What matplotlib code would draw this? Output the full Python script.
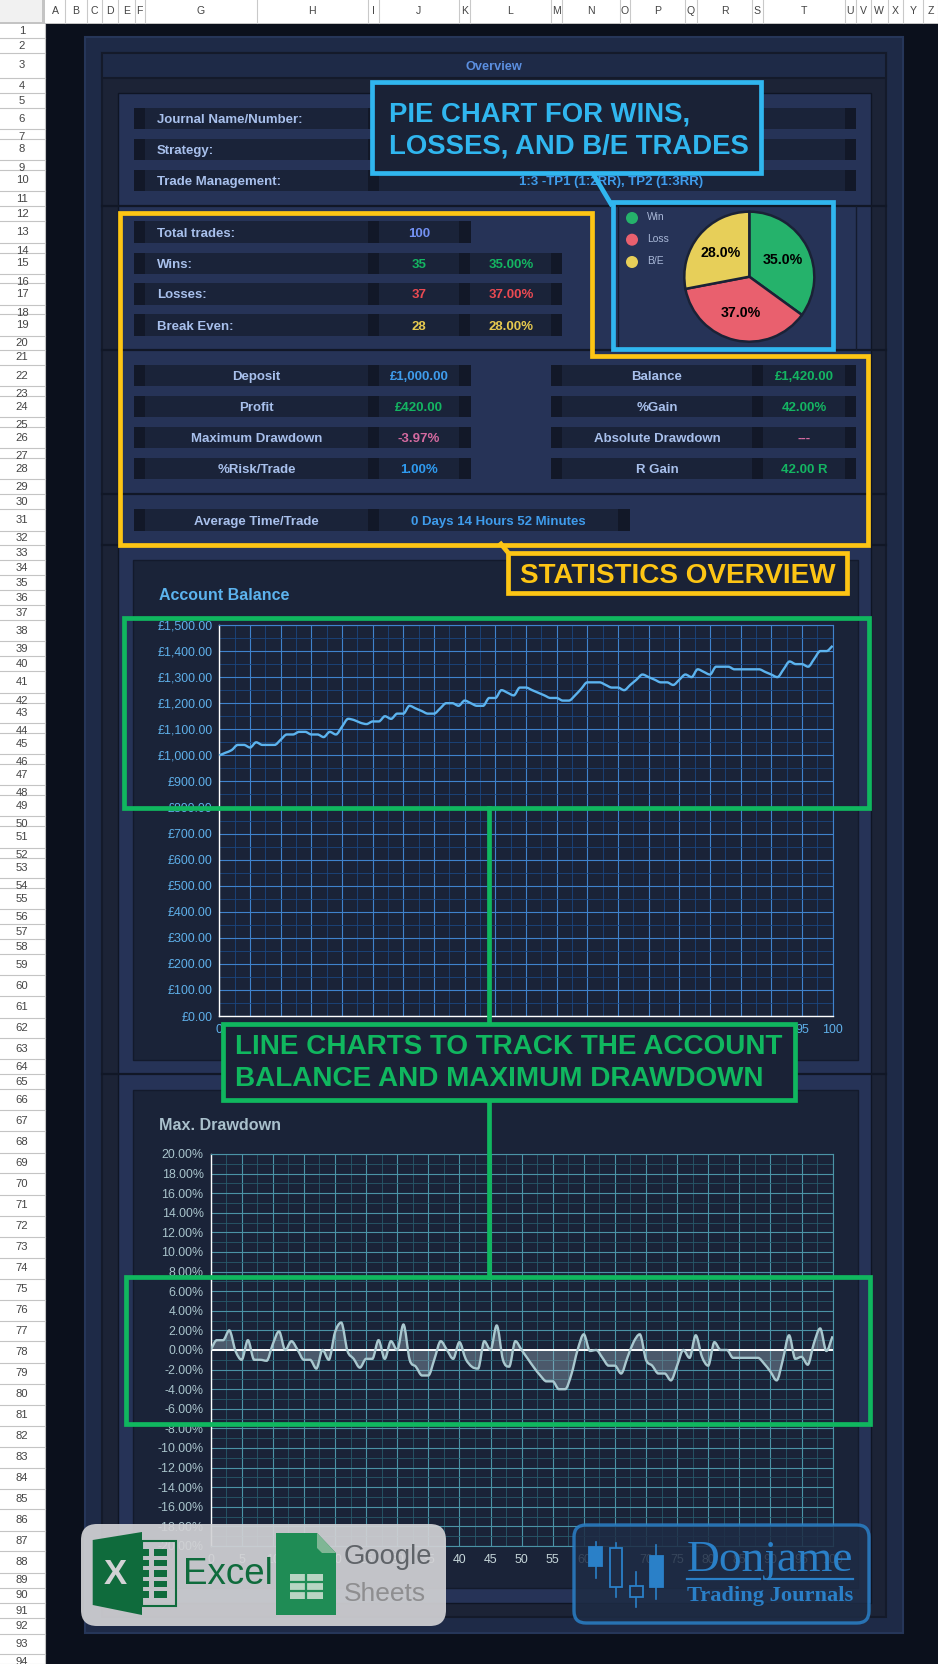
import numpy as np
import matplotlib
matplotlib.use("Agg")
import matplotlib.pyplot as plt
from matplotlib.patches import Rectangle, Polygon, Circle, FancyBboxPatch, PathPatch
from matplotlib.path import Path

W, H = 938, 1664
plt.rcParams['font.family'] = ['Liberation Sans', 'DejaVu Sans']

# chart data
pie_labels = ["Win", "Loss", "B/E"]
pie_values = [35, 37, 28]
pie_colors = ["#25b26b", "#e9606e", "#e7cf59"]

balance = [1000, 1010, 1020, 1040, 1040, 1030, 1050, 1040, 1040, 1040, 1060, 1080, 1080, 1090, 1090, 1080, 1080,
           1070, 1090, 1080, 1110, 1140, 1135, 1125, 1120, 1130, 1130, 1150, 1140, 1160, 1160, 1190, 1180, 1170,
           1160, 1160, 1180, 1200, 1200, 1190, 1210, 1200, 1190, 1190, 1220, 1220, 1250, 1240, 1230, 1260, 1260,
           1250, 1240, 1230, 1220, 1220, 1210, 1210, 1230, 1255, 1280, 1280, 1280, 1270, 1260, 1260, 1250, 1270,
           1290, 1310, 1300, 1290, 1280, 1280, 1270, 1290, 1310, 1300, 1330, 1320, 1310, 1340, 1340, 1340, 1330,
           1330, 1330, 1330, 1330, 1320, 1310, 1300, 1330, 1360, 1350, 1350, 1340, 1370, 1400, 1400, 1420]

drawdown = [0, 1.0, 1.0, 2.0, -0.1, -1.0, 1.0, -1.0, -1.0, -1.1, 0.6, 1.9, 0, 0.9, 0, -1.0, -1.0, -1.9, 0, -1.0,
            1.8, 2.8, -0.1, -0.9, -1.8, -0.9, -0.9, 1.0, -0.9, 0.9, 0, 2.6, -1.0, -1.7, -2.6, -2.6, -0.9, 0.9, 0,
            -0.9, 0.8, -0.9, -1.7, -1.9, 0.9, 0, 2.5, -1.0, -1.7, 0.9, 0, -0.9, -1.8, -2.6, -3.2, -3.2, -4.0, -4.0,
            -2.5, 0, 1.6, -0.1, 0, -0.8, -1.6, -1.6, -2.4, -0.8, 0.8, 1.6, -1.0, -1.6, -2.4, -2.4, -3.1, -1.6, 0,
            -0.8, 1.5, -0.7, -1.6, 0.8, 0, 0, -0.8, -0.8, -0.8, -0.8, -0.8, -1.4, -2.2, -3.1, -1.0, 1.5, -0.9, -0.7,
            -1.5, 0.7, 2.2, -0.1, 1.4]

x_ticks = list(range(0, 101, 5))
balance_ticks = list(range(0, 1501, 100))
drawdown_ticks = list(range(-20, 21, 2))

# stats rows: (row top, row bottom, label, value, colour, second value)
left_rows = [
    (221.4, 242.9, "Total trades:", "100", "#7391f2", None),
    (252.5, 273.9, "Wins:", "35", "#14b562", "35.00%"),
    (283.2, 304.6, "Losses:", "37", "#ea4a52", "37.00%"),
    (314.3, 335.7, "Break Even:", "28", "#e6c94f", "28.00%"),
]
center_rows = [
    (365.0, 386.4, "Deposit", "£1,000.00", "#3f9cec", "Balance", "£1,420.00", "#14b562"),
    (396.4, 417.1, "Profit", "£420.00", "#14b562", "%Gain", "42.00%", "#14b562"),
    (427.1, 448.2, "Maximum Drawdown", "-3.97%", "#d46aa0", "Absolute Drawdown", "---", "#d46aa0"),
    (458.2, 479.3, "%Risk/Trade", "1.00%", "#2f9bf0", "R Gain", "42.00 R", "#14b562"),
]

# sheet chrome
col_names = list("ABCDEFGHIJKLMNOPQRSTUVWXYZ")
col_edges = [45, 65, 87, 102, 118, 134.5, 145, 256.5, 368, 378.5, 459, 470, 551, 562, 619.6, 630, 685, 697, 752,
             763, 844.5, 856, 871, 887.5, 903, 923, 938]
row_edges = [23.6, 38.2, 52.9, 77.9, 93.2, 108.2, 128.9, 138.9, 160, 169.6, 191, 206.4, 221.4, 242.9, 252.5, 273.9,
             283.2, 304.6, 314.3, 335.7, 350, 365, 386.4, 396.4, 417.1, 427.1, 448.2, 458.2, 479.3, 494.3, 509.3,
             530.7, 545, 560.4, 575.4, 590.4, 605.4, 620.4, 641.4, 656.4, 671.4, 692.5, 702.5, 723.2, 733.2, 754.3,
             764.3, 785.4, 795.4, 816.4, 826.4, 847.5, 857.5, 878.2, 888.2, 909.3, 924.3, 939.3, 954.3, 975.4,
             996.4, 1017.5, 1038.2, 1059.3, 1074.3, 1089.3, 1110, 1131.3, 1152.5, 1173.4, 1194.6, 1215.5, 1236.7,
             1257.5, 1278.8, 1299.6, 1320.5, 1341.4, 1362.6, 1383.5, 1404.7, 1425.5, 1446.8, 1467.6, 1488.5, 1509.4,
             1530.6, 1551.4, 1572.7, 1587.8, 1602.9, 1618.3, 1633.5, 1654.3, 1664]

CAP = "#121828"
CELL = "#1a2339"
PANEL = "#263357"
LABEL = "#a8c0ec"
BLUE = "#30b6ef"
YELLOW = "#fdc514"
GREEN = "#10b75f"
DARKBOX = "#1a2236"


def rect(ax, x0, y0, x1, y1, fc, ec="none", lw=0, z=1, **kw):
    ax.add_patch(Rectangle((x0, y0), x1 - x0, y1 - y0, fc=fc, ec=ec, lw=lw, zorder=z, **kw))


def px_axes(x0, y0, x1, y1, z):
    return fig.add_axes([x0 / W, 1 - y1 / H, (x1 - x0) / W, (y1 - y0) / H], zorder=z)


def smooth_path(xs, ys):
    # bezier through the points, flat at local peaks like the sheet's smooth line
    xs, ys = np.array(xs, float), np.array(ys, float)
    d = np.diff(ys)
    t = np.zeros(len(ys))
    for i in range(1, len(ys) - 1):
        if d[i - 1] * d[i] > 0:
            t[i] = (d[i - 1] + d[i]) / 2
    t[0], t[-1] = d[0], d[-1]
    verts = [(xs[0], ys[0])]
    codes = [Path.MOVETO]
    for i in range(len(ys) - 1):
        verts += [(xs[i] + 1 / 3, ys[i] + t[i] / 3), (xs[i + 1] - 1 / 3, ys[i + 1] - t[i + 1] / 3), (xs[i + 1], ys[i + 1])]
        codes += [Path.CURVE4] * 3
    return verts, codes


def style_chart(ax, yt, ylabels, major, minor, labelc, xlabelc, ymin, ymax, ystep):
    ax.set_facecolor("none")
    ax.set_xlim(0, 100)
    ax.set_ylim(ymin, ymax)
    ax.set_xticks(x_ticks)
    ax.set_xticklabels([str(v) for v in x_ticks])
    ax.set_xticks(np.arange(2.5, 100, 5), minor=True)
    ax.set_yticks(yt)
    ax.set_yticklabels(ylabels)
    ax.set_yticks(np.arange(ymin + ystep / 2, ymax, ystep), minor=True)
    ax.grid(True, which="major", color=major, lw=0.8, zorder=1)
    ax.grid(True, which="minor", color=minor, lw=0.6, zorder=0)
    ax.set_axisbelow(True)
    ax.tick_params(which="both", length=0)
    ax.tick_params(axis="y", labelsize=8.9, labelcolor=labelc, pad=5)
    ax.tick_params(axis="x", labelsize=8.9, labelcolor=xlabelc, pad=6)
    for s in ("top", "right"):
        ax.spines[s].set_color(major)
        ax.spines[s].set_linewidth(0.8)
    ax.spines["left"].set_color("white")
    ax.spines["left"].set_linewidth(1.0)


fig = plt.figure(figsize=(W / 100, H / 100), dpi=100, facecolor="white")

bg = px_axes(0, 0, W, H, 0)
bg.set_xlim(0, W)
bg.set_ylim(H, 0)
bg.axis("off")

# sheet body and headers
rect(bg, 45, 23.6, W, H, "#0b101c")
rect(bg, 0, 0, 45, 23.6, "#f1f1f1")
rect(bg, 41.5, 0, 45, 23.6, "#c4c4c4")
rect(bg, 0, 22.3, 45, 23.6, "#c4c4c4")
rect(bg, 45, 22.5, W, 23.6, "#c4c4c4")
for i, name in enumerate(col_names):
    x0, x1 = col_edges[i], col_edges[i + 1]
    bg.plot([x1, x1], [0, 23], color="#c9c9c9", lw=0.8, zorder=2)
    bg.text((x0 + x1) / 2, 11.5, name, ha="center", va="center", fontsize=7.6, color="#444444", zorder=3)
bg.plot([44.5, 44.5], [23, H], color="#c4c4c4", lw=0.8, zorder=2)
for i in range(len(row_edges) - 1):
    y0, y1 = row_edges[i], row_edges[i + 1]
    bg.plot([0, 44.5], [y1, y1], color="#c4c4c4", lw=0.8, zorder=2)
    yc = (y0 + y1) / 2 if y1 - y0 > 12 else y0 + 8
    t = bg.text(22, yc, str(i + 1), ha="center", va="center", fontsize=8.1, color="#444444", zorder=3)
    t.set_clip_path(Rectangle((0, y0), 44, y1 - y0, transform=bg.transData))

# dashboard frames
rect(bg, 85, 37, 903, 1633, "#1e2a47", ec="#263659", lw=1.5)
rect(bg, 102, 52.9, 886, 1617, "#1c2336", ec="#141a2a", lw=1.5, z=2)
rect(bg, 102, 52.9, 886, 77.9, "#1e2a47", ec="#141a2a", lw=1.5, z=3)
bg.text(494, 66.5, "Overview", ha="center", va="center", fontsize=9.2, fontweight="bold", color="#5b8fe0", zorder=4)
rect(bg, 118, 93.2, 871, 1603, PANEL, ec="#0f1524", lw=1.0, z=3)
for y in (206.4, 350, 494.3, 545, 1073.5):
    bg.plot([102, 886], [y, y], color="#111726", lw=1.6, zorder=4)
bg.plot([855.5, 855.5], [206.4, 350], color="#141b2e", lw=1.0, zorder=4)
bg.plot([618, 618], [206.4, 350], color="#141b2e", lw=1.0, zorder=4)


def cell(y0, y1, lx0, lx1, vx0, vx1, z=5):
    rect(bg, lx0 - 11, y0, lx0, y1, CAP, z=z)
    rect(bg, lx0, y0, lx1, y1, CELL, z=z)
    rect(bg, lx1, y0, vx0, y1, CAP, z=z)
    rect(bg, vx0, y0, vx1, y1, CELL, z=z)
    rect(bg, vx1, y0, vx1 + 11.5, y1, CAP, z=z)


def txt(x, y, s, c=LABEL, ha="center"):
    bg.text(x, y + 1.5, s, ha=ha, va="center", fontsize=9.5, fontweight="bold", color=c, zorder=6)


# journal rows
for y0, y1, label in [(108.2, 128.9, "Journal Name/Number:"), (138.9, 160, "Strategy:"), (169.6, 191, "Trade Management:")]:
    cell(y0, y1, 145, 368, 378.5, 844.5)
    txt(157, (y0 + y1) / 2, label, ha="left")
txt(611, 180.5, "1:3 -TP1 (1:2RR), TP2 (1:3RR)", "#3f9cec")

for y0, y1, label, val, c, pct in left_rows:
    cell(y0, y1, 145, 368, 378.5, 459)
    txt(157, (y0 + y1) / 2, label, ha="left")
    txt(419, (y0 + y1) / 2, val, c)
    if pct:
        rect(bg, 470, y0, 551, y1, CELL, z=5)
        rect(bg, 551, y0, 562, y1, CAP, z=5)
        txt(511, (y0 + y1) / 2, pct, c)

for y0, y1, la, va, ca, lb, vb, cb in center_rows:
    cell(y0, y1, 145, 368, 378.5, 459)
    cell(y0, y1, 562, 752, 763, 844.5)
    txt(256.5, (y0 + y1) / 2, la)
    txt(419, (y0 + y1) / 2, va, ca)
    txt(657, (y0 + y1) / 2, lb)
    txt(804, (y0 + y1) / 2, vb, cb)

cell(509.3, 530.7, 145, 368, 378.5, 618)
txt(256.5, 520, "Average Time/Trade")
txt(498, 520, "0 Days 14 Hours 52 Minutes", "#3f9cec")

# chart cards
rect(bg, 133, 560, 858, 1059.5, "#1a2338", ec="#131a2c", lw=1.0, z=4)
rect(bg, 133, 1090, 858, 1588, "#1a2338", ec="#131a2c", lw=1.0, z=4)
bg.text(159, 596, "Account Balance", ha="left", va="center", fontsize=11.5, fontweight="bold", color="#5cb3ee", zorder=5)
bg.text(159, 1125, "Max. Drawdown", ha="left", va="center", fontsize=11.6, fontweight="bold", color="#a9c0cc", zorder=5)

# pie
pie_ax = px_axes(749.3 - 66, 276.7 - 66, 749.3 + 66, 276.7 + 66, 3)
pie_ax.pie(pie_values, colors=pie_colors, startangle=90, counterclock=False, radius=0.985, autopct="%1.1f%%", pctdistance=0.58,
           wedgeprops=dict(edgecolor="#1a2236", linewidth=1.8),
           textprops=dict(fontsize=10.2, fontweight="bold", color="black"))
pie_ax.set_xlim(-1, 1)
pie_ax.set_ylim(-1, 1)

for lab, c, y in zip(pie_labels, pie_colors, [218, 239.7, 262]):
    bg.add_patch(Circle((632, y), 6, fc=c, ec="none", zorder=6))
    bg.text(646.7, y - 1, lab, ha="left", va="center", fontsize=7.4, color="#a9b8d8", zorder=6)

# balance chart
ax1 = px_axes(219.4, 625, 832.6, 1016, 3)
style_chart(ax1, balance_ticks, ["£{:,.2f}".format(v) for v in balance_ticks], "#3f82cc", "#1a4680",
            "#5fb0ea", "#5fb0ea", 0, 1500, 100)
ax1.spines["bottom"].set_color("white")
ax1.spines["bottom"].set_linewidth(1.0)
v, c = smooth_path(range(len(balance)), balance)
ax1.add_patch(PathPatch(Path(v, c), fc="none", ec="#5cb3ee", lw=1.7, zorder=4))

# drawdown chart
ax2 = px_axes(210.6, 1154, 832.6, 1546, 3)
style_chart(ax2, drawdown_ticks, ["{:.2f}%".format(v) for v in drawdown_ticks], "#4b93a6", "#28596b",
            "#a9c4cc", "#c6d6da", -20, 20, 2)
ax2.spines["bottom"].set_color("#4b93a6")
v, c = smooth_path(range(len(drawdown)), drawdown)
ax2.add_patch(PathPatch(Path(v + [(100, 0), (0, 0), (0, 0)], c + [Path.LINETO, Path.LINETO, Path.CLOSEPOLY]),
                        fc="#a9c0cc", ec="none", alpha=0.35, zorder=3))
ax2.axhline(0, color="white", lw=1.4, zorder=4)
ax2.add_patch(PathPatch(Path(v, c), fc="none", ec="#a9c8cf", lw=1.7, zorder=5))

# annotations on top
top = px_axes(0, 0, W, H, 6)
top.set_xlim(0, W)
top.set_ylim(H, 0)
top.axis("off")
top.patch.set_alpha(0)


def box(x0, y0, x1, y1, color):
    rect(top, x0, y0, x1, y1, DARKBOX, ec=color, lw=3.4, z=3, joinstyle="miter")


# blue callout
top.plot([592, 611], [172, 204], color=BLUE, lw=3.4, zorder=2)
rect(top, 612.7, 202, 832.7, 349, "none", ec=BLUE, lw=3.4, z=3, joinstyle="miter")
box(372, 82, 761, 172.5, BLUE)
top.text(389, 114, "PIE CHART FOR WINS,", ha="left", va="center", fontsize=19.8, fontweight="bold", color=BLUE, zorder=4)
top.text(389, 146, "LOSSES, AND B/E TRADES", ha="left", va="center", fontsize=19.8, fontweight="bold", color=BLUE, zorder=4)

# yellow outline
top.add_patch(Polygon([(119.6, 212.5), (592, 212.5), (592, 356), (867.5, 356), (867.5, 544.5), (119.6, 544.5)], closed=True,
                      fc="none", ec=YELLOW, lw=3.4, joinstyle="miter", zorder=2))
top.plot([501, 510], [544, 555], color=YELLOW, lw=3.4, zorder=2)
box(508, 553, 846.7, 593, YELLOW)
top.text(677.5, 576, "STATISTICS OVERVIEW", ha="center", va="center", fontsize=20.1, fontweight="bold", color=YELLOW, zorder=4)

# green outlines
rect(top, 124, 618, 869, 808, "none", ec=GREEN, lw=3.4, z=2, joinstyle="miter")
rect(top, 126, 1277, 870, 1424, "none", ec=GREEN, lw=3.4, z=2, joinstyle="miter")
top.plot([489.4, 489.4], [808, 1024], color=GREEN, lw=3.4, zorder=2)
top.plot([488.5, 488.5], [1100, 1277], color=GREEN, lw=3.4, zorder=2)
box(223, 1024, 795, 1100, GREEN)
top.text(235, 1047.5, "LINE CHARTS TO TRACK THE ACCOUNT", ha="left", va="center", fontsize=20.1, fontweight="bold", color=GREEN, zorder=4)
top.text(235, 1079.5, "BALANCE AND MAXIMUM DRAWDOWN", ha="left", va="center", fontsize=20.1, fontweight="bold", color=GREEN, zorder=4)

# excel / sheets badge
top.add_patch(FancyBboxPatch((91, 1534), 345, 82, boxstyle="round,pad=10,rounding_size=16", fc="#d2d2d5", ec="none", alpha=0.92, zorder=5))
XL = "#0f6b3c"
top.add_patch(Polygon([(92.7, 1540), (142, 1532), (142, 1615), (92.7, 1605)], closed=True, fc=XL, ec="none", zorder=6))
rect(top, 142, 1541, 175.7, 1605.7, "none", ec=XL, lw=1.5, z=6)
for yy in (1549, 1559.5, 1570, 1580.5, 1591):
    rect(top, 142, yy, 149, yy + 6.7, XL, z=6)
    rect(top, 154, yy, 167, yy + 6.7, XL, z=6)
top.text(115.7, 1574, "X", ha="center", va="center", fontsize=25, fontweight="bold", color="#d2d2d5", zorder=7)
top.text(183, 1575, "Excel", ha="left", va="center", fontsize=26.5, color=XL, zorder=6)
SH = "#1f8c55"
top.add_patch(Polygon([(276, 1533), (317, 1533), (336, 1553), (336, 1615), (276, 1615)], closed=True, fc=SH, ec="none", zorder=6))
top.add_patch(Polygon([(317, 1533), (336, 1553), (322, 1553), (317, 1548)], closed=True, fc="#7fb695", ec="none", zorder=7))
rect(top, 290, 1574, 323, 1599, "#b8d5c3", z=7)
for yy in (1582, 1591):
    top.plot([290, 323], [yy, yy], color=SH, lw=1.6, zorder=8)
top.plot([306, 306], [1574, 1599], color=SH, lw=1.6, zorder=8)
top.text(344, 1557, "Google", ha="left", va="center", fontsize=19.8, color="#5f6368", zorder=6)
top.text(344, 1594, "Sheets", ha="left", va="center", fontsize=19, color="#8e8e90", zorder=6)

# donjame badge
DJ = "#2a80c8"
top.add_patch(FancyBboxPatch((584, 1535), 275, 78, boxstyle="round,pad=10,rounding_size=12", fc="#1e2c45", ec=DJ, lw=2.4, alpha=0.85, zorder=5))
candles = [(595.6, 1541.7, 1578.3, 1547.3, 1565.7, True), (616, 1543.3, 1597.3, 1548.3, 1586.7, False),
           (636.3, 1571.7, 1607.3, 1586, 1597, False), (656.3, 1545, 1598.7, 1556, 1587.3, True)]
for x, lo, hi, b0, b1, filled in candles:
    top.plot([x, x], [lo, hi], color=DJ, lw=1.2, zorder=6)
    rect(top, x - 6.3, b0, x + 6.3, b1, DJ if filled else "#1e2c45", ec=DJ, lw=1.3, z=7)
top.text(687, 1560, "Donjame", ha="left", va="center", fontsize=32.7, family=["Liberation Serif"], color=DJ, zorder=6)
top.plot([687, 760], [1579, 1579], color=DJ, lw=1.6, zorder=6)
top.plot([768, 853], [1579, 1579], color=DJ, lw=1.6, zorder=6)
top.text(687, 1596, "Trading Journals", ha="left", va="center", fontsize=16.1, fontweight="bold", family=["Liberation Serif"], color=DJ, zorder=6)

fig.savefig("out.png", dpi=100, facecolor="white")
